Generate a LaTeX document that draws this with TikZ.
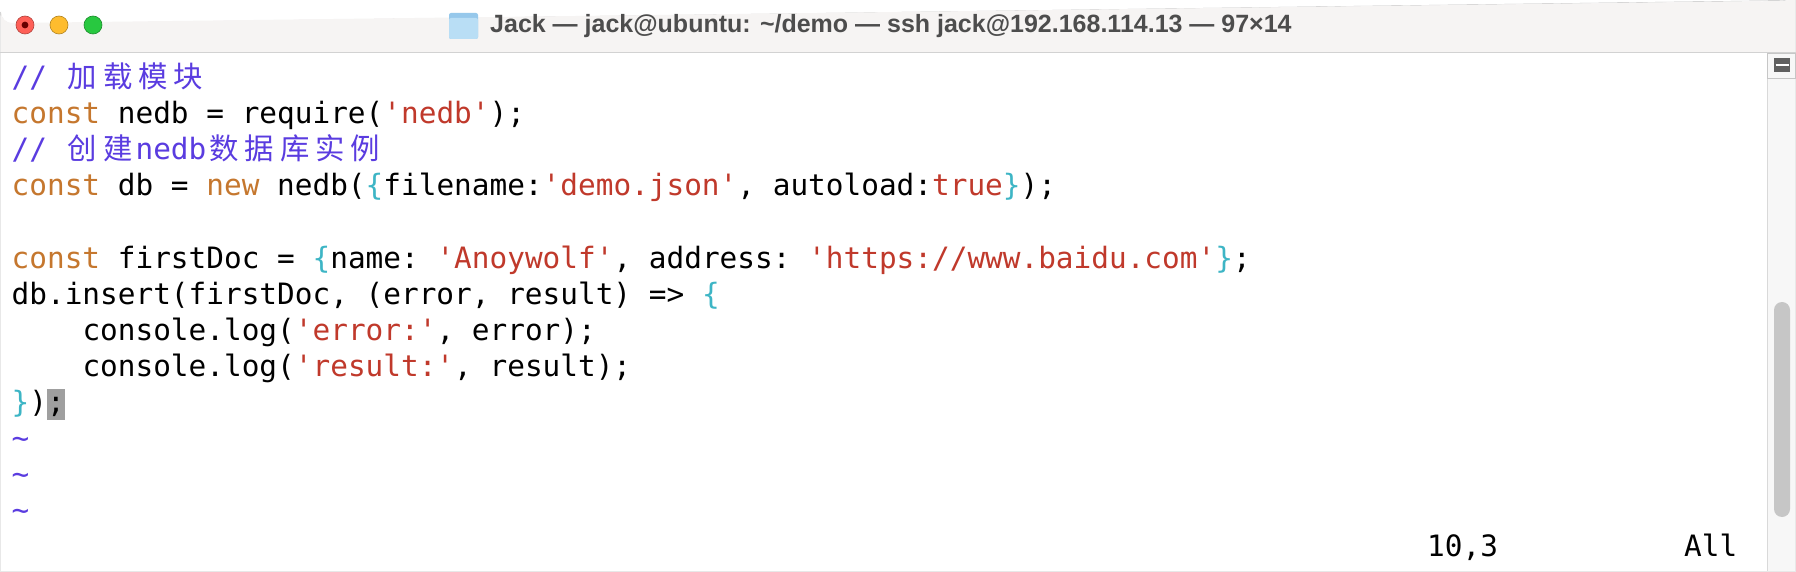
\documentclass[tikz,border=0pt]{standalone}
\usepackage{fontspec}
\setmonofont{DejaVu Sans Mono}
\setsansfont{Liberation Sans}
\newfontfamily\cjk{Noto Sans CJK SC}
\definecolor{kw}{HTML}{C5772E}
\definecolor{str}{HTML}{C0392B}
\definecolor{brc}{HTML}{3DB5C5}
\definecolor{cmt}{HTML}{5A3CE0}
\definecolor{titlebg}{HTML}{F6F4F3}
\definecolor{lred}{HTML}{FE5F57}
\definecolor{lyel}{HTML}{FEBC2E}
\definecolor{lgrn}{HTML}{28C840}
\definecolor{fold}{HTML}{96C8EB}
\definecolor{foldl}{HTML}{B9DEF5}
\definecolor{ttl}{HTML}{4D4D4D}
\newcommand{\cj}[1]{\makebox[35.4pt][c]{\cjk #1}}
\newcommand{\K}[1]{\textcolor{kw}{#1}}
\newcommand{\St}[1]{\textcolor{str}{#1}}
\newcommand{\B}[1]{\textcolor{brc}{#1}}
\begin{document}
\begin{tikzpicture}[x=1pt,y=-1pt,
  code/.style={anchor=base west,inner sep=0pt,font=\fontsize{29.4}{30}\ttfamily},
  light/.style={circle,minimum size=18pt,inner sep=0pt,draw=#1!70!black,fill=#1,line width=0.6pt}]
\useasboundingbox (0,0) rectangle (1796,572);
\fill[white] (0,0) rectangle (1796,572);
\draw[gray!50,fill=white] (0.5,12) arc[start angle=180,end angle=90,radius=12] -- (1783.5,0.5) arc[start angle=90,end angle=0,radius=12] -- (1795.5,571.5) -- (0.5,571.5) -- cycle;
\fill[titlebg] (1,12) arc[start angle=180,end angle=90,radius=11] -- (1784,1) arc[start angle=90,end angle=0,radius=11] -- (1795,52) -- (1,52) -- cycle;
\draw[gray!35] (0,52.5) -- (1796,52.5);
\node[light=lred] (r) at (25,25) {};
\fill[black!60!red] (r.center) circle (3.4);
\node[light=lyel] (y) at (59,25) {};
\node[light=lgrn] (g) at (93,25) {};
% folder icon
\fill[rounded corners=2pt,fold] (449,13) rectangle (478,39);
\fill[rounded corners=2pt,foldl] (449,18) rectangle (478,39);
\node[font=\fontsize{25}{28}\sffamily\bfseries,text=ttl,anchor=west,inner sep=0pt] (title) at (490,26) {Jack — jack@ubuntu: \textasciitilde/demo — ssh jack@192.168.114.13 — 97×14};
% code
\def\X{11.5}
\node[code] (l1) at (\X,88) {\textcolor{cmt}{//\ \cj{加}\cj{载}\cj{模}\cj{块}}};
\node[code] (l2) at (\X,124) {\K{const} nedb = require(\St{'nedb'});};
\node[code] (l3) at (\X,160) {\textcolor{cmt}{//\ \cj{创}\cj{建}nedb\cj{数}\cj{据}\cj{库}\cj{实}\cj{例}}};
\node[code] (l4) at (\X,196) {\K{const} db = \K{new} nedb(\B{\{}filename:\St{'demo.json'}, autoload:\St{true}\B{\}});};
\node[code] (l6) at (\X,268) {\K{const} firstDoc = \B{\{}name: \St{'Anoywolf'}, address: \St{'https://www.baidu.com'}\B{\}};};
\node[code] (l7) at (\X,304) {db.insert(firstDoc, (error, result) => \B{\{}};
\node[code] (l8) at (\X,340) {\ \ \ \ console.log(\St{'error:'}, error);};
\node[code] (l9) at (\X,376) {\ \ \ \ console.log(\St{'result:'}, result);};
\fill[gray!75] (46.9,389) rectangle (64.6,420);
\node[code] (l10) at (\X,412) {\B{\}});};
\node[code,text=cmt] (t1) at (\X,448) {\textasciitilde};
\node[code,text=cmt] (t2) at (\X,484) {\textasciitilde};
\node[code,text=cmt] (t3) at (\X,520) {\textasciitilde};
\node[code] (pos) at (1427,556) {10,3};
\node[code] (all) at (1684,556) {All};
% scrollbar
\fill[gray!6] (1767,53) rectangle (1795,571);
\draw[gray!30] (1767,53) -- (1767,571);
\draw[gray!45,fill=gray!6] (1767,53) rectangle (1795,78);
\fill[gray!75!black] (1774,58) rectangle (1790,72);
\draw[white,line width=1.2pt] (1775.5,65) -- (1788.5,65);
\fill[gray!45,rounded corners=8pt] (1774,302) rectangle (1790,517);
\end{tikzpicture}
\end{document}
